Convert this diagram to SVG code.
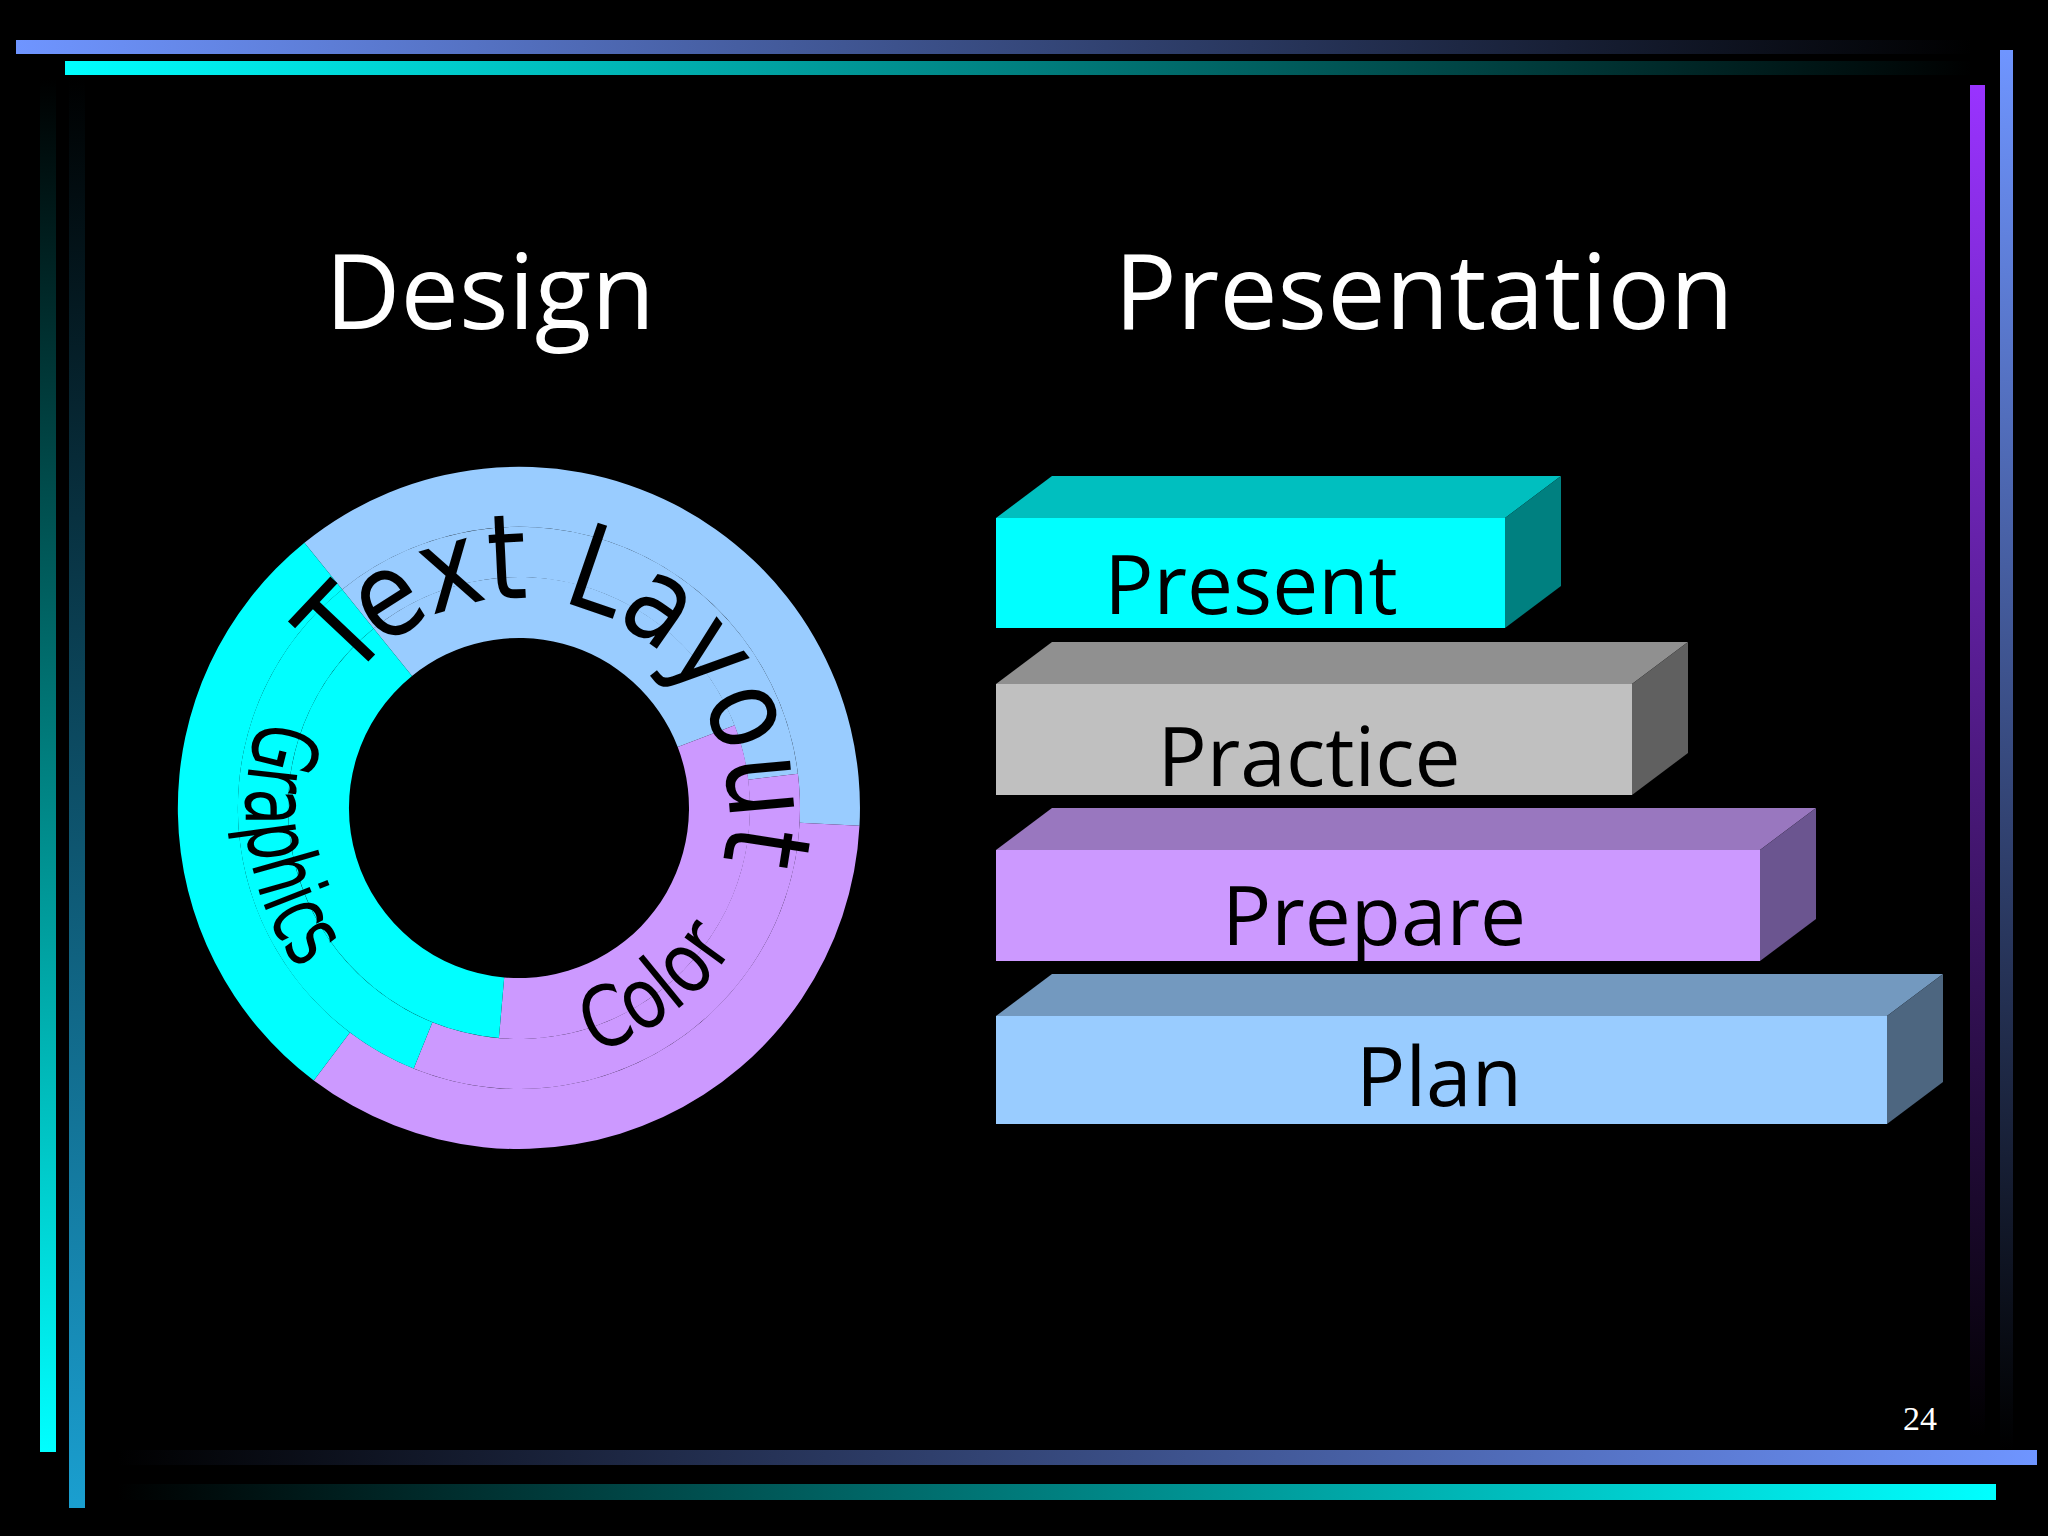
<svg xmlns="http://www.w3.org/2000/svg" xmlns:xlink="http://www.w3.org/1999/xlink" width="2048" height="1536" viewBox="0 0 2048 1536">
<style>
.t{font-family:"Open Sans","Noto Sans",sans-serif;fill:#fff}
.b{font-family:"Open Sans","Noto Sans",sans-serif;fill:#000;text-anchor:middle}
.d{font-family:"DejaVu Sans",sans-serif;fill:#000}
</style>
<defs>
<linearGradient id="gBlueL" x1="0" x2="1" y1="0" y2="0"><stop offset="0" stop-color="#6f95ff"/><stop offset="1" stop-color="#000"/></linearGradient>
<linearGradient id="gCyanL" x1="0" x2="1" y1="0" y2="0"><stop offset="0" stop-color="#00ffff"/><stop offset="1" stop-color="#000"/></linearGradient>
<linearGradient id="gBlueR" x1="0" x2="1" y1="0" y2="0"><stop offset="0" stop-color="#000"/><stop offset="1" stop-color="#6f95ff"/></linearGradient>
<linearGradient id="gCyanR" x1="0" x2="1" y1="0" y2="0"><stop offset="0" stop-color="#000"/><stop offset="1" stop-color="#00ffff"/></linearGradient>
<linearGradient id="gVBlue" x1="0" x2="0" y1="0" y2="1"><stop offset="0" stop-color="#6f95ff"/><stop offset="1" stop-color="#000"/></linearGradient>
<linearGradient id="gVPurp" x1="0" x2="0" y1="0" y2="1"><stop offset="0" stop-color="#9933ff"/><stop offset="1" stop-color="#000"/></linearGradient>
<linearGradient id="gVCyan" x1="0" x2="0" y1="0" y2="1"><stop offset="0" stop-color="#000"/><stop offset="1" stop-color="#00ffff"/></linearGradient>
<linearGradient id="gVTeal" x1="0" x2="0" y1="0" y2="1"><stop offset="0" stop-color="#000"/><stop offset="1" stop-color="#1a9fd0"/></linearGradient>
<path id="pText" d="M 347 687.5 A 210 210 0 1 1 679.9 943"/>
<path id="pGraph" d="M 260.5 719.0 A 273 273 0 0 0 290.3 956.7 A 273 273 0 0 0 330 1000"/>
<path id="pColor" d="M 593.8 1052.8 A 256 256 0 0 0 740.7 936"/>
</defs>
<rect width="2048" height="1536" fill="#000"/>
<g id="frame">
<rect x="16" y="40" width="1956" height="14" fill="url(#gBlueL)"/>
<rect x="65" y="61" width="1907" height="14" fill="url(#gCyanL)"/>
<rect x="2000" y="50" width="13" height="1400" fill="url(#gVBlue)"/>
<rect x="1970" y="85" width="15" height="1352" fill="url(#gVPurp)"/>
<rect x="40" y="78" width="16" height="1374" fill="url(#gVCyan)"/>
<rect x="69" y="78" width="16" height="1430" fill="url(#gVTeal)"/>
<rect x="118" y="1450" width="1919" height="15" fill="url(#gBlueR)"/>
<rect x="118" y="1484" width="1878" height="16" fill="url(#gCyanR)"/>
<text x="1920" y="1430" font-family="Liberation Serif,serif" font-size="34" fill="#fff" text-anchor="middle">24</text>
</g>
<text class="t" x="490" y="329" font-size="104" text-anchor="middle">Design</text>
<text class="t" x="1424" y="329" font-size="104" text-anchor="middle">Presentation</text>
<g id="donut">
<path d="M 304.4 542.8 A 341 341 0 0 1 859.5 825.8 L 799.6 822.7 A 281 281 0 0 0 342.2 589.4 Z" fill="#99ccff"/>
<path d="M 859.5 825.8 A 341 341 0 0 1 313.8 1080.4 L 349.9 1032.4 A 281 281 0 0 0 799.6 822.7 Z" fill="#cc99ff"/>
<path d="M 313.8 1080.4 A 341 341 0 0 1 304.4 542.8 L 342.2 589.4 A 281 281 0 0 0 349.9 1032.4 Z" fill="#00ffff"/>
<path d="M 342.2 589.4 A 281 281 0 0 1 797.9 773.7 L 748.1 779.8 A 231 231 0 0 0 373.6 628.5 Z" fill="#99ccff"/>
<path d="M 797.9 773.7 A 281 281 0 0 1 413.7 1068.5 L 432.4 1022.2 A 231 231 0 0 0 748.1 779.8 Z" fill="#cc99ff"/>
<path d="M 413.7 1068.5 A 281 281 0 0 1 342.2 589.4 L 373.6 628.5 A 231 231 0 0 0 432.4 1022.2 Z" fill="#00ffff"/>
<path d="M 373.6 628.5 A 231 231 0 0 1 734.7 725.2 L 677.7 747.1 A 170 170 0 0 0 412.0 675.9 Z" fill="#99ccff"/>
<path d="M 734.7 725.2 A 231 231 0 0 1 498.9 1038.1 L 504.2 977.4 A 170 170 0 0 0 677.7 747.1 Z" fill="#cc99ff"/>
<path d="M 498.9 1038.1 A 231 231 0 0 1 373.6 628.5 L 412.0 675.9 A 170 170 0 0 0 504.2 977.4 Z" fill="#00ffff"/>
<text class="d" font-size="118"><textPath xlink:href="#pText" startOffset="8" textLength="575" lengthAdjust="spacingAndGlyphs">Text Layout</textPath></text>
<text class="d" font-size="90"><textPath xlink:href="#pGraph" textLength="265" lengthAdjust="spacingAndGlyphs">Graphics</textPath></text>
<text class="d" font-size="84"><textPath xlink:href="#pColor" textLength="180" lengthAdjust="spacingAndGlyphs">Color</textPath></text>
</g>
<g id="present">
<polygon points="996,518 1052,476 1561,476 1505,518" fill="#00bfbf"/>
<polygon points="1505,518 1561,476 1561,586 1505,628" fill="#008080"/>
<rect x="996" y="518" width="509" height="110" fill="#00ffff"/>
<text class="b" x="1251" y="614" font-size="82">Present</text>
</g>
<g id="practice">
<polygon points="996,684 1052,642 1688,642 1632,684" fill="#909090"/>
<polygon points="1632,684 1688,642 1688,753 1632,795" fill="#606060"/>
<rect x="996" y="684" width="636" height="111" fill="#c0c0c0"/>
<text class="b" x="1309" y="786" font-size="82">Practice</text>
</g>
<g id="prepare">
<polygon points="996,850 1052,808 1816,808 1760,850" fill="#9977bf"/>
<polygon points="1760,850 1816,808 1816,919 1760,961" fill="#6b5590"/>
<rect x="996" y="850" width="764" height="111" fill="#cc99ff"/>
<text class="b" x="1374" y="945" font-size="82">Prepare</text>
</g>
<g id="plan">
<polygon points="996,1016 1052,974 1943,974 1887,1016" fill="#7399bf"/>
<polygon points="1887,1016 1943,974 1943,1082 1887,1124" fill="#4d6680"/>
<rect x="996" y="1016" width="891" height="108" fill="#99ccff"/>
<text class="b" x="1439" y="1106" font-size="82">Plan</text>
</g>
</svg>
